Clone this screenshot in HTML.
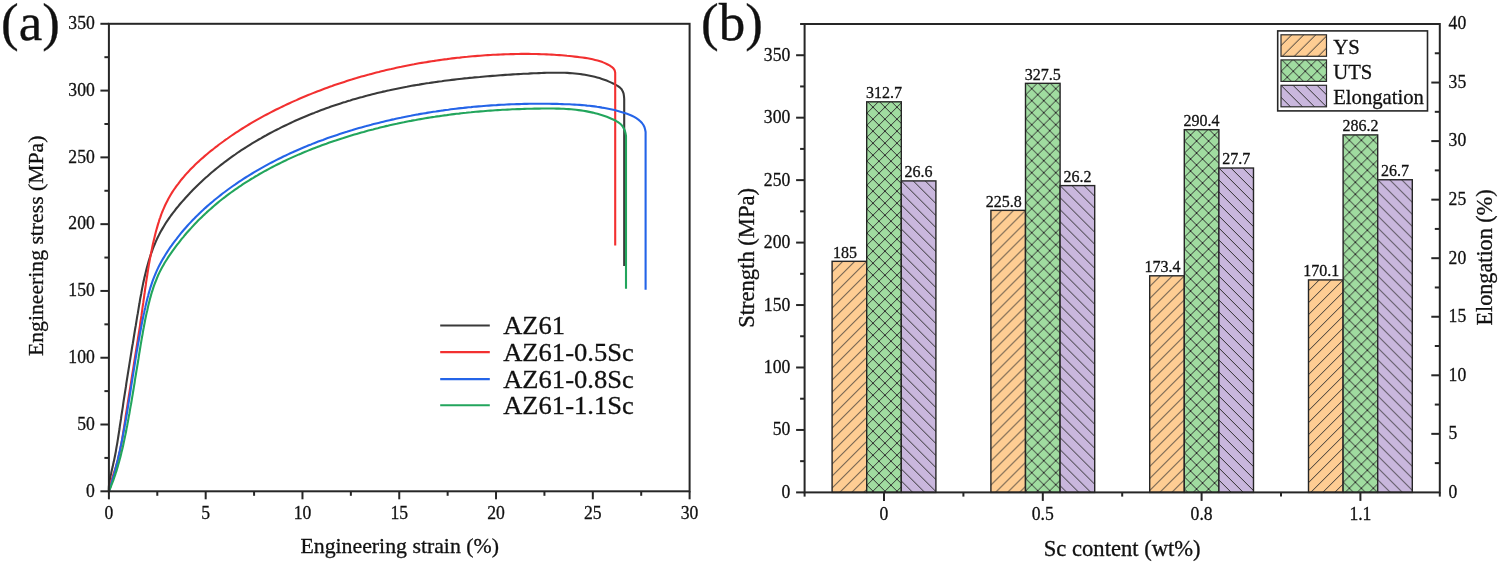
<!DOCTYPE html><html><head><meta charset="utf-8"><style>html,body{margin:0;padding:0;background:#fff;}svg{display:block;will-change:transform;}text{font-family:"Liberation Serif", serif;fill:#111;stroke:#111;stroke-width:0.3px;}</style></head><body>
<svg width="1500" height="564" viewBox="0 0 1500 564">
<defs>
<pattern id="pYS1" patternUnits="userSpaceOnUse" x="830.80" y="261.32" width="12.000" height="12.000"><rect x="0" y="0" width="12.000" height="12.000" fill="#fecd93"/><path d="M-1.800,13.800 L13.800,-1.800 M-13.800,13.800 L1.800,-1.800 M10.200,13.800 L25.800,-1.800" stroke="#2e2e2e" stroke-width="1.00"/></pattern>
<pattern id="pUTS2" patternUnits="userSpaceOnUse" x="866.95" y="101.17" width="12.000" height="12.000"><rect x="0" y="0" width="12.000" height="12.000" fill="#a0dca0"/><path d="M-1.800,13.800 L13.800,-1.800 M-13.800,13.800 L1.800,-1.800 M10.200,13.800 L25.800,-1.800" stroke="#2e2e2e" stroke-width="1.00"/><path d="M-1.800,-1.800 L13.800,13.800 M-13.800,-1.800 L1.800,13.800 M10.200,-1.800 L25.800,13.800" stroke="#2e2e2e" stroke-width="1.00"/></pattern>
<pattern id="pEL3" patternUnits="userSpaceOnUse" x="901.30" y="180.91" width="12.000" height="12.000"><rect x="0" y="0" width="12.000" height="12.000" fill="#c9b7dd"/><path d="M-1.800,-1.800 L13.800,13.800 M-13.800,-1.800 L1.800,13.800 M10.200,-1.800 L25.800,13.800" stroke="#2e2e2e" stroke-width="1.00"/></pattern>
<pattern id="pYS4" patternUnits="userSpaceOnUse" x="989.60" y="210.36" width="12.000" height="12.000"><rect x="0" y="0" width="12.000" height="12.000" fill="#fecd93"/><path d="M-1.800,13.800 L13.800,-1.800 M-13.800,13.800 L1.800,-1.800 M10.200,13.800 L25.800,-1.800" stroke="#2e2e2e" stroke-width="1.00"/></pattern>
<pattern id="pUTS5" patternUnits="userSpaceOnUse" x="1025.75" y="82.68" width="12.000" height="12.000"><rect x="0" y="0" width="12.000" height="12.000" fill="#a0dca0"/><path d="M-1.800,13.800 L13.800,-1.800 M-13.800,13.800 L1.800,-1.800 M10.200,13.800 L25.800,-1.800" stroke="#2e2e2e" stroke-width="1.00"/><path d="M-1.800,-1.800 L13.800,13.800 M-13.800,-1.800 L1.800,13.800 M10.200,-1.800 L25.800,13.800" stroke="#2e2e2e" stroke-width="1.00"/></pattern>
<pattern id="pEL6" patternUnits="userSpaceOnUse" x="1060.10" y="185.60" width="12.000" height="12.000"><rect x="0" y="0" width="12.000" height="12.000" fill="#c9b7dd"/><path d="M-1.800,-1.800 L13.800,13.800 M-13.800,-1.800 L1.800,13.800 M10.200,-1.800 L25.800,13.800" stroke="#2e2e2e" stroke-width="1.00"/></pattern>
<pattern id="pYS7" patternUnits="userSpaceOnUse" x="1148.40" y="275.81" width="12.000" height="12.000"><rect x="0" y="0" width="12.000" height="12.000" fill="#fecd93"/><path d="M-1.800,13.800 L13.800,-1.800 M-13.800,13.800 L1.800,-1.800 M10.200,13.800 L25.800,-1.800" stroke="#2e2e2e" stroke-width="1.00"/></pattern>
<pattern id="pUTS8" patternUnits="userSpaceOnUse" x="1184.55" y="129.02" width="12.000" height="12.000"><rect x="0" y="0" width="12.000" height="12.000" fill="#a0dca0"/><path d="M-1.800,13.800 L13.800,-1.800 M-13.800,13.800 L1.800,-1.800 M10.200,13.800 L25.800,-1.800" stroke="#2e2e2e" stroke-width="1.00"/><path d="M-1.800,-1.800 L13.800,13.800 M-13.800,-1.800 L1.800,13.800 M10.200,-1.800 L25.800,13.800" stroke="#2e2e2e" stroke-width="1.00"/></pattern>
<pattern id="pEL9" patternUnits="userSpaceOnUse" x="1218.90" y="168.03" width="12.000" height="12.000"><rect x="0" y="0" width="12.000" height="12.000" fill="#c9b7dd"/><path d="M-1.800,-1.800 L13.800,13.800 M-13.800,-1.800 L1.800,13.800 M10.200,-1.800 L25.800,13.800" stroke="#2e2e2e" stroke-width="1.00"/></pattern>
<pattern id="pYS10" patternUnits="userSpaceOnUse" x="1307.20" y="279.93" width="12.000" height="12.000"><rect x="0" y="0" width="12.000" height="12.000" fill="#fecd93"/><path d="M-1.800,13.800 L13.800,-1.800 M-13.800,13.800 L1.800,-1.800 M10.200,13.800 L25.800,-1.800" stroke="#2e2e2e" stroke-width="1.00"/></pattern>
<pattern id="pUTS11" patternUnits="userSpaceOnUse" x="1343.35" y="134.27" width="12.000" height="12.000"><rect x="0" y="0" width="12.000" height="12.000" fill="#a0dca0"/><path d="M-1.800,13.800 L13.800,-1.800 M-13.800,13.800 L1.800,-1.800 M10.200,13.800 L25.800,-1.800" stroke="#2e2e2e" stroke-width="1.00"/><path d="M-1.800,-1.800 L13.800,13.800 M-13.800,-1.800 L1.800,13.800 M10.200,-1.800 L25.800,13.800" stroke="#2e2e2e" stroke-width="1.00"/></pattern>
<pattern id="pEL12" patternUnits="userSpaceOnUse" x="1377.70" y="179.74" width="12.000" height="12.000"><rect x="0" y="0" width="12.000" height="12.000" fill="#c9b7dd"/><path d="M-1.800,-1.800 L13.800,13.800 M-13.800,-1.800 L1.800,13.800 M10.200,-1.800 L25.800,13.800" stroke="#2e2e2e" stroke-width="1.00"/></pattern>
<pattern id="pYS13" patternUnits="userSpaceOnUse" x="1279.70" y="34.80" width="12.000" height="12.000"><rect x="0" y="0" width="12.000" height="12.000" fill="#fecd93"/><path d="M-1.800,13.800 L13.800,-1.800 M-13.800,13.800 L1.800,-1.800 M10.200,13.800 L25.800,-1.800" stroke="#2e2e2e" stroke-width="1.00"/></pattern>
<pattern id="pUTS14" patternUnits="userSpaceOnUse" x="1281.25" y="59.25" width="12.000" height="12.000"><rect x="0" y="0" width="12.000" height="12.000" fill="#a0dca0"/><path d="M-1.800,13.800 L13.800,-1.800 M-13.800,13.800 L1.800,-1.800 M10.200,13.800 L25.800,-1.800" stroke="#2e2e2e" stroke-width="1.00"/><path d="M-1.800,-1.800 L13.800,13.800 M-13.800,-1.800 L1.800,13.800 M10.200,-1.800 L25.800,13.800" stroke="#2e2e2e" stroke-width="1.00"/></pattern>
<pattern id="pEL15" patternUnits="userSpaceOnUse" x="1281.00" y="85.30" width="12.000" height="12.000"><rect x="0" y="0" width="12.000" height="12.000" fill="#c9b7dd"/><path d="M-1.800,-1.800 L13.800,13.800 M-13.800,-1.800 L1.800,13.800 M10.200,-1.800 L25.800,13.800" stroke="#2e2e2e" stroke-width="1.00"/></pattern>
</defs>
<path d="M108.8,491.7 L108.8,489.1 L108.9,486.5 L109.2,484.0 L109.5,481.5 L110.0,479.0 L110.4,476.5 L111.0,474.0 L111.5,471.6 L112.1,469.1 L112.7,466.6 L113.2,464.1 L113.8,461.6 L114.3,459.2 L114.8,456.7 L115.3,454.2 L115.8,451.6 L116.2,449.1 L116.6,446.6 L117.1,444.1 L117.5,441.6 L117.9,439.1 L118.3,436.5 L118.7,434.0 L119.1,431.5 L119.5,429.0 L119.8,426.4 L120.2,423.9 L120.6,421.4 L121.0,418.9 L121.3,416.3 L121.7,413.8 L122.1,411.3 L122.5,408.8 L122.9,406.3 L123.2,403.8 L123.6,401.2 L124.0,398.7 L124.4,396.2 L124.8,393.7 L125.2,391.2 L125.6,388.7 L126.0,386.2 L126.3,383.7 L126.7,381.1 L127.1,378.6 L127.5,376.1 L127.9,373.6 L128.3,371.1 L128.7,368.6 L129.1,366.1 L129.5,363.6 L129.9,361.1 L130.3,358.6 L130.7,356.1 L131.1,353.6 L131.5,351.1 L131.9,348.5 L132.3,346.0 L132.8,343.5 L133.2,341.0 L133.6,338.5 L134.0,336.0 L134.4,333.5 L134.8,331.0 L135.2,328.5 L135.7,325.9 L136.1,323.4 L136.5,320.9 L136.9,318.4 L137.3,315.9 L137.8,313.4 L138.2,310.8 L138.6,308.3 L139.0,305.8 L139.5,303.3 L139.9,300.7 L140.3,298.2 L140.8,295.7 L141.3,293.2 L141.7,290.7 L142.2,288.1 L142.7,285.6 L143.2,283.1 L143.8,280.6 L144.3,278.1 L144.9,275.7 L145.5,273.2 L146.1,270.7 L146.7,268.3 L147.4,265.8 L148.1,263.4 L148.8,260.9 L149.5,258.5 L150.3,256.1 L151.1,253.7 L152.0,251.3 L152.8,249.0 L153.7,246.6 L154.7,244.3 L155.7,241.9 L156.7,239.6 L157.8,237.3 L158.9,235.1 L160.1,232.8 L161.3,230.6 L162.6,228.4 L163.9,226.2 L165.2,224.0 L166.6,221.8 L168.1,219.7 L169.5,217.6 L171.0,215.5 L172.6,213.4 L174.2,211.4 L175.7,209.3 L177.4,207.3 L179.0,205.3 L180.7,203.3 L182.4,201.4 L184.1,199.5 L185.8,197.5 L187.5,195.7 L189.3,193.8 L191.0,191.9 L192.8,190.1 L194.6,188.3 L196.4,186.5 L198.2,184.7 L200.0,183.0 L201.9,181.2 L203.7,179.5 L205.6,177.8 L207.5,176.2 L209.4,174.5 L211.3,172.8 L213.2,171.2 L215.1,169.6 L217.1,168.0 L219.0,166.5 L221.0,164.9 L223.0,163.4 L225.0,161.8 L227.0,160.3 L229.0,158.8 L231.0,157.4 L233.1,155.9 L235.2,154.5 L237.2,153.0 L239.3,151.6 L241.4,150.2 L243.5,148.8 L245.7,147.5 L247.8,146.1 L249.9,144.8 L252.1,143.4 L254.3,142.1 L256.5,140.8 L258.7,139.5 L260.9,138.3 L263.1,137.0 L265.4,135.8 L267.6,134.5 L269.9,133.3 L272.1,132.1 L274.4,130.9 L276.7,129.7 L279.0,128.6 L281.3,127.4 L283.6,126.3 L285.9,125.2 L288.2,124.1 L290.6,123.0 L292.9,121.9 L295.2,120.8 L297.6,119.8 L299.9,118.8 L302.3,117.7 L304.7,116.7 L307.1,115.7 L309.4,114.8 L311.8,113.8 L314.2,112.9 L316.6,111.9 L319.0,111.0 L321.4,110.1 L323.8,109.2 L326.2,108.3 L328.6,107.5 L331.0,106.6 L333.4,105.8 L335.8,105.0 L338.2,104.2 L340.6,103.4 L343.0,102.6 L345.5,101.9 L347.9,101.1 L350.3,100.4 L352.7,99.6 L355.2,98.9 L357.6,98.2 L360.0,97.5 L362.5,96.9 L364.9,96.2 L367.4,95.6 L369.8,94.9 L372.3,94.3 L374.7,93.7 L377.2,93.1 L379.6,92.5 L382.1,91.9 L384.5,91.4 L387.0,90.8 L389.5,90.3 L391.9,89.7 L394.4,89.2 L396.9,88.7 L399.3,88.2 L401.8,87.7 L404.3,87.2 L406.8,86.8 L409.3,86.3 L411.7,85.8 L414.2,85.4 L416.7,85.0 L419.2,84.6 L421.7,84.1 L424.2,83.7 L426.7,83.3 L429.2,83.0 L431.7,82.6 L434.2,82.2 L436.7,81.9 L439.2,81.5 L441.8,81.2 L444.3,80.8 L446.8,80.5 L449.3,80.2 L451.8,79.9 L454.4,79.6 L456.9,79.3 L459.4,79.0 L461.9,78.7 L464.5,78.4 L467.0,78.2 L469.6,77.9 L472.1,77.7 L474.6,77.4 L477.2,77.2 L479.7,77.0 L482.3,76.7 L484.8,76.5 L487.4,76.3 L489.9,76.1 L492.5,75.9 L495.1,75.7 L497.6,75.5 L500.2,75.3 L502.8,75.1 L505.3,74.9 L507.9,74.8 L510.5,74.6 L513.0,74.4 L515.6,74.3 L518.2,74.1 L520.8,74.0 L523.4,73.8 L526.0,73.7 L528.5,73.6 L531.1,73.4 L533.7,73.3 L536.3,73.2 L538.9,73.1 L541.5,73.0 L544.1,72.9 L546.7,72.8 L549.3,72.7 L551.9,72.7 L554.4,72.7 L557.0,72.7 L559.6,72.7 L562.2,72.7 L564.7,72.8 L567.3,72.9 L569.8,73.1 L572.4,73.3 L574.9,73.5 L577.4,73.7 L579.9,74.0 L582.4,74.4 L584.9,74.7 L587.4,75.2 L589.8,75.7 L592.3,76.2 L594.7,76.8 L597.1,77.4 L599.5,78.1 L601.9,78.9 L604.3,79.7 L606.6,80.6 L609.0,81.6 L611.3,82.6 L613.6,83.7 L615.8,84.9 L618.0,86.1 L620.0,87.6 L621.6,89.3 L622.8,91.4 L623.6,93.7 L624.0,96.3 L624.2,98.9 L624.2,265.9" fill="none" stroke="#3a3a3a" stroke-width="2.1" stroke-linejoin="round"/>
<path d="M108.8,491.7 L109.3,489.2 L109.8,486.7 L110.5,484.2 L111.1,481.7 L111.9,479.3 L112.6,476.8 L113.4,474.4 L114.2,471.9 L115.0,469.5 L115.8,467.0 L116.5,464.6 L117.2,462.1 L117.9,459.6 L118.5,457.1 L119.1,454.6 L119.7,452.1 L120.2,449.6 L120.7,447.1 L121.2,444.6 L121.6,442.1 L122.1,439.6 L122.5,437.0 L122.9,434.5 L123.3,432.0 L123.7,429.4 L124.1,426.9 L124.5,424.4 L124.9,421.8 L125.3,419.3 L125.6,416.7 L126.0,414.2 L126.4,411.7 L126.8,409.1 L127.2,406.6 L127.6,404.1 L128.0,401.5 L128.4,399.0 L128.8,396.5 L129.2,393.9 L129.6,391.4 L130.0,388.9 L130.4,386.3 L130.8,383.8 L131.2,381.3 L131.6,378.7 L132.0,376.2 L132.4,373.7 L132.8,371.1 L133.2,368.6 L133.6,366.1 L134.0,363.5 L134.4,361.0 L134.8,358.5 L135.2,356.0 L135.6,353.4 L136.0,350.9 L136.4,348.4 L136.8,345.8 L137.2,343.3 L137.6,340.8 L138.0,338.2 L138.4,335.7 L138.8,333.2 L139.2,330.6 L139.6,328.1 L140.0,325.6 L140.3,323.0 L140.7,320.5 L141.1,317.9 L141.5,315.4 L141.8,312.9 L142.2,310.3 L142.5,307.8 L142.9,305.2 L143.3,302.7 L143.6,300.2 L144.0,297.6 L144.3,295.1 L144.7,292.5 L145.0,290.0 L145.4,287.5 L145.8,284.9 L146.1,282.4 L146.5,279.8 L146.9,277.3 L147.3,274.8 L147.7,272.2 L148.1,269.7 L148.5,267.2 L148.9,264.6 L149.4,262.1 L149.8,259.6 L150.3,257.1 L150.8,254.5 L151.3,252.0 L151.8,249.5 L152.3,247.0 L152.8,244.5 L153.4,242.0 L154.0,239.5 L154.6,237.0 L155.2,234.5 L155.8,232.0 L156.5,229.5 L157.2,227.1 L157.9,224.6 L158.7,222.1 L159.4,219.7 L160.3,217.3 L161.1,214.9 L162.0,212.5 L163.0,210.1 L164.0,207.8 L165.0,205.5 L166.1,203.2 L167.3,200.9 L168.4,198.7 L169.7,196.5 L171.0,194.3 L172.3,192.1 L173.7,190.0 L175.2,187.9 L176.6,185.8 L178.2,183.8 L179.7,181.8 L181.3,179.7 L183.0,177.8 L184.6,175.8 L186.3,173.9 L188.1,172.0 L189.8,170.1 L191.6,168.3 L193.5,166.4 L195.3,164.6 L197.2,162.8 L199.1,161.1 L201.0,159.3 L203.0,157.6 L204.9,155.9 L206.9,154.2 L208.9,152.5 L210.9,150.9 L213.0,149.3 L215.0,147.7 L217.1,146.1 L219.1,144.5 L221.2,143.0 L223.3,141.5 L225.4,139.9 L227.5,138.5 L229.6,137.0 L231.7,135.5 L233.8,134.1 L235.9,132.7 L238.1,131.3 L240.2,129.9 L242.4,128.5 L244.6,127.2 L246.7,125.8 L248.9,124.5 L251.1,123.2 L253.3,121.9 L255.5,120.6 L257.7,119.4 L260.0,118.1 L262.2,116.9 L264.4,115.7 L266.7,114.5 L268.9,113.3 L271.2,112.1 L273.4,111.0 L275.7,109.8 L278.0,108.7 L280.3,107.6 L282.6,106.5 L284.9,105.4 L287.2,104.3 L289.5,103.2 L291.8,102.1 L294.1,101.1 L296.5,100.1 L298.8,99.0 L301.1,98.0 L303.5,97.0 L305.9,96.0 L308.2,95.1 L310.6,94.1 L313.0,93.1 L315.3,92.2 L317.7,91.3 L320.1,90.4 L322.5,89.5 L324.9,88.6 L327.3,87.7 L329.7,86.8 L332.1,86.0 L334.5,85.1 L337.0,84.3 L339.4,83.5 L341.8,82.7 L344.3,81.9 L346.7,81.1 L349.1,80.3 L351.6,79.6 L354.1,78.8 L356.5,78.1 L359.0,77.3 L361.4,76.6 L363.9,75.9 L366.4,75.2 L368.9,74.6 L371.3,73.9 L373.8,73.2 L376.3,72.6 L378.8,72.0 L381.3,71.3 L383.8,70.7 L386.3,70.1 L388.8,69.5 L391.3,69.0 L393.8,68.4 L396.3,67.8 L398.8,67.3 L401.4,66.8 L403.9,66.2 L406.4,65.7 L408.9,65.2 L411.4,64.7 L414.0,64.3 L416.5,63.8 L419.0,63.3 L421.6,62.9 L424.1,62.5 L426.6,62.1 L429.2,61.6 L431.7,61.2 L434.3,60.9 L436.8,60.5 L439.4,60.1 L441.9,59.7 L444.5,59.4 L447.0,59.1 L449.6,58.7 L452.1,58.4 L454.7,58.1 L457.2,57.8 L459.8,57.6 L462.3,57.3 L464.9,57.0 L467.4,56.8 L470.0,56.5 L472.5,56.3 L475.1,56.1 L477.6,55.9 L480.2,55.7 L482.8,55.5 L485.3,55.3 L487.9,55.1 L490.4,55.0 L493.0,54.8 L495.5,54.7 L498.1,54.6 L500.6,54.5 L503.2,54.4 L505.7,54.3 L508.3,54.2 L510.8,54.1 L513.4,54.1 L515.9,54.0 L518.5,54.0 L521.0,53.9 L523.6,53.9 L526.1,53.9 L528.7,53.9 L531.2,54.0 L533.8,54.0 L536.3,54.0 L538.9,54.1 L541.4,54.2 L544.0,54.3 L546.5,54.4 L549.1,54.5 L551.6,54.6 L554.2,54.8 L556.7,55.0 L559.3,55.1 L561.9,55.3 L564.4,55.5 L567.0,55.8 L569.6,56.0 L572.1,56.3 L574.7,56.6 L577.3,56.9 L579.8,57.2 L582.4,57.5 L585.0,57.9 L587.6,58.3 L590.1,58.7 L592.6,59.3 L595.1,59.9 L597.6,60.5 L600.1,61.3 L602.5,62.1 L604.9,63.1 L607.2,64.2 L609.5,65.4 L611.6,66.8 L613.4,68.4 L614.7,70.4 L615.2,72.8 L615.2,245.4" fill="none" stroke="#f23030" stroke-width="2.1" stroke-linejoin="round"/>
<path d="M108.8,491.7 L109.6,489.3 L110.3,486.9 L111.1,484.4 L111.8,482.0 L112.5,479.6 L113.2,477.1 L113.9,474.7 L114.6,472.3 L115.2,469.8 L115.8,467.4 L116.5,464.9 L117.1,462.4 L117.7,460.0 L118.2,457.5 L118.8,455.0 L119.4,452.6 L119.9,450.1 L120.4,447.6 L121.0,445.1 L121.5,442.7 L122.0,440.2 L122.5,437.7 L123.0,435.2 L123.4,432.7 L123.9,430.2 L124.4,427.7 L124.8,425.2 L125.3,422.8 L125.7,420.3 L126.1,417.8 L126.6,415.3 L127.0,412.8 L127.4,410.3 L127.8,407.8 L128.2,405.3 L128.6,402.8 L129.0,400.3 L129.4,397.8 L129.8,395.3 L130.2,392.8 L130.6,390.3 L131.0,387.7 L131.4,385.2 L131.8,382.7 L132.2,380.2 L132.6,377.7 L133.0,375.2 L133.4,372.7 L133.8,370.2 L134.2,367.7 L134.6,365.2 L135.0,362.7 L135.4,360.2 L135.8,357.7 L136.2,355.2 L136.6,352.7 L137.0,350.2 L137.5,347.7 L137.9,345.2 L138.3,342.7 L138.8,340.2 L139.2,337.7 L139.7,335.2 L140.1,332.7 L140.6,330.2 L141.1,327.8 L141.5,325.3 L142.0,322.8 L142.5,320.3 L143.0,317.8 L143.5,315.3 L144.1,312.8 L144.6,310.4 L145.2,307.9 L145.7,305.4 L146.3,302.9 L146.9,300.5 L147.5,298.0 L148.2,295.6 L148.8,293.1 L149.5,290.7 L150.2,288.2 L151.0,285.8 L151.8,283.4 L152.6,281.0 L153.5,278.7 L154.4,276.3 L155.4,274.0 L156.4,271.7 L157.4,269.4 L158.5,267.1 L159.7,264.8 L160.9,262.6 L162.1,260.3 L163.4,258.1 L164.7,256.0 L166.0,253.8 L167.4,251.7 L168.8,249.5 L170.2,247.4 L171.7,245.4 L173.1,243.3 L174.6,241.3 L176.2,239.3 L177.7,237.3 L179.3,235.3 L180.8,233.4 L182.4,231.5 L184.1,229.5 L185.7,227.7 L187.4,225.8 L189.1,223.9 L190.8,222.1 L192.5,220.3 L194.3,218.5 L196.0,216.7 L197.8,215.0 L199.6,213.2 L201.4,211.5 L203.3,209.8 L205.1,208.1 L207.0,206.4 L208.9,204.7 L210.8,203.1 L212.8,201.5 L214.7,199.8 L216.7,198.2 L218.6,196.7 L220.6,195.1 L222.6,193.5 L224.7,192.0 L226.7,190.5 L228.7,189.0 L230.8,187.5 L232.9,186.0 L235.0,184.6 L237.1,183.1 L239.2,181.7 L241.3,180.3 L243.4,178.9 L245.6,177.5 L247.8,176.2 L249.9,174.8 L252.1,173.5 L254.3,172.2 L256.5,170.9 L258.7,169.6 L260.9,168.3 L263.1,167.1 L265.3,165.9 L267.6,164.6 L269.8,163.4 L272.1,162.2 L274.3,161.1 L276.6,159.9 L278.9,158.8 L281.1,157.7 L283.4,156.5 L285.7,155.5 L288.0,154.4 L290.3,153.3 L292.6,152.3 L294.9,151.2 L297.2,150.2 L299.5,149.2 L301.8,148.2 L304.1,147.2 L306.5,146.3 L308.8,145.3 L311.2,144.4 L313.5,143.4 L315.9,142.5 L318.2,141.6 L320.6,140.7 L322.9,139.9 L325.3,139.0 L327.7,138.1 L330.1,137.3 L332.4,136.5 L334.8,135.7 L337.2,134.9 L339.6,134.1 L342.0,133.3 L344.4,132.5 L346.8,131.8 L349.3,131.0 L351.7,130.3 L354.1,129.5 L356.5,128.8 L359.0,128.1 L361.4,127.4 L363.8,126.7 L366.3,126.1 L368.7,125.4 L371.2,124.8 L373.6,124.1 L376.1,123.5 L378.5,122.9 L381.0,122.3 L383.4,121.7 L385.9,121.1 L388.4,120.5 L390.8,119.9 L393.3,119.4 L395.8,118.8 L398.3,118.3 L400.8,117.8 L403.3,117.2 L405.7,116.7 L408.2,116.2 L410.7,115.8 L413.2,115.3 L415.7,114.8 L418.2,114.4 L420.7,113.9 L423.2,113.5 L425.7,113.1 L428.2,112.6 L430.7,112.2 L433.3,111.8 L435.8,111.5 L438.3,111.1 L440.8,110.7 L443.3,110.4 L445.8,110.0 L448.4,109.7 L450.9,109.3 L453.4,109.0 L455.9,108.7 L458.5,108.4 L461.0,108.1 L463.5,107.9 L466.0,107.6 L468.6,107.3 L471.1,107.1 L473.6,106.8 L476.1,106.6 L478.7,106.4 L481.2,106.2 L483.7,106.0 L486.3,105.8 L488.8,105.6 L491.3,105.4 L493.9,105.2 L496.4,105.1 L498.9,104.9 L501.5,104.8 L504.0,104.7 L506.5,104.5 L509.1,104.4 L511.6,104.3 L514.1,104.2 L516.6,104.1 L519.2,104.1 L521.7,104.0 L524.2,103.9 L526.8,103.9 L529.3,103.8 L531.8,103.8 L534.3,103.8 L536.8,103.8 L539.4,103.8 L541.9,103.8 L544.4,103.8 L546.9,103.8 L549.4,103.8 L552.0,103.9 L554.5,103.9 L557.0,103.9 L559.5,104.0 L562.0,104.1 L564.5,104.2 L567.0,104.2 L569.5,104.3 L572.0,104.5 L574.5,104.6 L577.0,104.7 L579.5,104.9 L582.0,105.1 L584.5,105.3 L587.0,105.6 L589.5,105.8 L592.0,106.1 L594.5,106.4 L597.0,106.8 L599.5,107.1 L602.0,107.6 L604.5,108.0 L607.0,108.5 L609.5,109.0 L612.0,109.5 L614.5,110.1 L617.0,110.8 L619.5,111.5 L622.0,112.2 L624.6,113.0 L627.0,113.8 L629.5,114.7 L631.9,115.7 L634.2,116.9 L636.3,118.2 L638.4,119.6 L640.3,121.2 L642.0,123.0 L643.4,125.0 L644.5,127.2 L645.1,129.5 L645.6,132.0 L645.6,289.8" fill="none" stroke="#2464e8" stroke-width="2.1" stroke-linejoin="round"/>
<path d="M108.8,491.7 L109.7,489.4 L110.7,487.2 L111.5,484.9 L112.4,482.6 L113.3,480.3 L114.1,478.0 L114.9,475.7 L115.6,473.4 L116.4,471.1 L117.1,468.7 L117.8,466.4 L118.4,464.1 L119.1,461.7 L119.7,459.4 L120.4,457.0 L121.0,454.6 L121.5,452.3 L122.1,449.9 L122.7,447.5 L123.2,445.2 L123.7,442.8 L124.2,440.4 L124.7,438.0 L125.2,435.6 L125.7,433.2 L126.2,430.8 L126.6,428.4 L127.1,426.0 L127.5,423.6 L128.0,421.2 L128.4,418.8 L128.8,416.4 L129.3,414.0 L129.7,411.6 L130.1,409.2 L130.5,406.8 L131.0,404.4 L131.4,402.0 L131.8,399.6 L132.2,397.2 L132.6,394.8 L133.0,392.4 L133.4,390.0 L133.8,387.6 L134.2,385.2 L134.6,382.8 L134.9,380.3 L135.3,377.9 L135.7,375.5 L136.1,373.1 L136.5,370.7 L136.9,368.3 L137.3,365.9 L137.7,363.5 L138.1,361.1 L138.5,358.7 L138.8,356.3 L139.2,353.9 L139.6,351.5 L140.0,349.0 L140.4,346.6 L140.8,344.2 L141.2,341.8 L141.6,339.4 L142.0,337.0 L142.5,334.6 L142.9,332.2 L143.3,329.8 L143.8,327.4 L144.2,325.0 L144.7,322.6 L145.1,320.2 L145.6,317.8 L146.1,315.4 L146.6,313.1 L147.2,310.7 L147.7,308.3 L148.2,305.9 L148.8,303.5 L149.4,301.2 L150.0,298.8 L150.7,296.4 L151.3,294.1 L152.0,291.8 L152.8,289.4 L153.5,287.1 L154.3,284.8 L155.2,282.5 L156.1,280.3 L157.0,278.0 L157.9,275.8 L158.9,273.6 L160.0,271.4 L161.1,269.2 L162.3,267.1 L163.5,265.0 L164.7,262.8 L166.0,260.8 L167.3,258.7 L168.6,256.6 L170.0,254.6 L171.4,252.6 L172.8,250.6 L174.3,248.6 L175.7,246.7 L177.2,244.7 L178.7,242.8 L180.2,240.8 L181.7,238.9 L183.3,237.1 L184.8,235.2 L186.4,233.3 L188.0,231.5 L189.6,229.7 L191.3,227.9 L192.9,226.1 L194.6,224.3 L196.3,222.6 L197.9,220.8 L199.7,219.1 L201.4,217.4 L203.1,215.7 L204.9,214.1 L206.7,212.4 L208.5,210.8 L210.3,209.2 L212.1,207.6 L213.9,206.0 L215.8,204.4 L217.6,202.9 L219.5,201.3 L221.4,199.8 L223.3,198.3 L225.2,196.9 L227.1,195.4 L229.1,193.9 L231.0,192.5 L233.0,191.1 L235.0,189.7 L237.0,188.3 L239.0,186.9 L241.0,185.6 L243.0,184.2 L245.0,182.9 L247.1,181.6 L249.2,180.3 L251.2,179.0 L253.3,177.8 L255.4,176.5 L257.5,175.3 L259.6,174.0 L261.7,172.8 L263.8,171.6 L266.0,170.5 L268.1,169.3 L270.3,168.1 L272.5,167.0 L274.6,165.9 L276.8,164.8 L279.0,163.7 L281.2,162.6 L283.4,161.5 L285.6,160.5 L287.8,159.4 L290.0,158.4 L292.3,157.4 L294.5,156.4 L296.8,155.4 L299.0,154.4 L301.3,153.5 L303.5,152.5 L305.8,151.6 L308.1,150.6 L310.3,149.7 L312.6,148.8 L314.9,147.9 L317.2,147.1 L319.5,146.2 L321.8,145.3 L324.1,144.5 L326.4,143.7 L328.7,142.8 L331.0,142.0 L333.3,141.2 L335.7,140.5 L338.0,139.7 L340.3,138.9 L342.6,138.2 L345.0,137.4 L347.3,136.7 L349.6,136.0 L352.0,135.3 L354.3,134.6 L356.6,133.9 L359.0,133.2 L361.3,132.5 L363.7,131.9 L366.0,131.2 L368.3,130.6 L370.7,130.0 L373.0,129.4 L375.4,128.7 L377.8,128.2 L380.1,127.6 L382.5,127.0 L384.8,126.4 L387.2,125.9 L389.6,125.3 L391.9,124.8 L394.3,124.3 L396.7,123.8 L399.0,123.2 L401.4,122.7 L403.8,122.3 L406.2,121.8 L408.5,121.3 L410.9,120.9 L413.3,120.4 L415.7,120.0 L418.1,119.5 L420.5,119.1 L422.8,118.7 L425.2,118.3 L427.6,117.9 L430.0,117.5 L432.4,117.1 L434.8,116.8 L437.2,116.4 L439.6,116.1 L442.0,115.7 L444.4,115.4 L446.8,115.1 L449.2,114.7 L451.6,114.4 L454.0,114.1 L456.5,113.8 L458.9,113.6 L461.3,113.3 L463.7,113.0 L466.1,112.8 L468.5,112.5 L471.0,112.3 L473.4,112.0 L475.8,111.8 L478.2,111.6 L480.6,111.4 L483.1,111.2 L485.5,111.0 L487.9,110.8 L490.4,110.6 L492.8,110.5 L495.2,110.3 L497.7,110.1 L500.1,110.0 L502.5,109.8 L505.0,109.7 L507.4,109.6 L509.9,109.5 L512.3,109.3 L514.7,109.2 L517.2,109.1 L519.6,109.1 L522.1,109.0 L524.5,108.9 L527.0,108.8 L529.4,108.8 L531.9,108.7 L534.3,108.6 L536.8,108.6 L539.2,108.6 L541.7,108.5 L544.2,108.5 L546.6,108.5 L549.1,108.5 L551.5,108.5 L554.0,108.5 L556.4,108.6 L558.9,108.6 L561.3,108.7 L563.8,108.8 L566.2,109.0 L568.7,109.1 L571.1,109.3 L573.5,109.5 L576.0,109.8 L578.4,110.1 L580.8,110.4 L583.2,110.7 L585.6,111.1 L588.0,111.6 L590.4,112.1 L592.8,112.6 L595.1,113.2 L597.5,113.8 L599.8,114.5 L602.2,115.2 L604.5,116.0 L606.8,116.8 L609.1,117.7 L611.4,118.7 L613.7,119.7 L615.9,120.8 L618.0,122.1 L619.9,123.5 L621.6,125.1 L623.0,126.9 L624.1,129.0 L625.0,131.2 L625.6,133.6 L626.0,136.0 L626.0,288.7" fill="none" stroke="#22a55c" stroke-width="2.1" stroke-linejoin="round"/>
<g stroke="#262626" stroke-width="2" fill="none" stroke-linecap="butt">
<rect x="108.90" y="23.80" width="580.70" height="467.50"/>
<line x1="108.90" y1="491.30" x2="108.90" y2="499.30"/>
<line x1="205.68" y1="491.30" x2="205.68" y2="499.30"/>
<line x1="302.47" y1="491.30" x2="302.47" y2="499.30"/>
<line x1="399.25" y1="491.30" x2="399.25" y2="499.30"/>
<line x1="496.03" y1="491.30" x2="496.03" y2="499.30"/>
<line x1="592.82" y1="491.30" x2="592.82" y2="499.30"/>
<line x1="689.60" y1="491.30" x2="689.60" y2="499.30"/>
<line x1="157.29" y1="491.30" x2="157.29" y2="495.80"/>
<line x1="254.08" y1="491.30" x2="254.08" y2="495.80"/>
<line x1="350.86" y1="491.30" x2="350.86" y2="495.80"/>
<line x1="447.64" y1="491.30" x2="447.64" y2="495.80"/>
<line x1="544.43" y1="491.30" x2="544.43" y2="495.80"/>
<line x1="641.21" y1="491.30" x2="641.21" y2="495.80"/>
<line x1="100.40" y1="491.30" x2="108.90" y2="491.30"/>
<line x1="100.40" y1="424.51" x2="108.90" y2="424.51"/>
<line x1="100.40" y1="357.73" x2="108.90" y2="357.73"/>
<line x1="100.40" y1="290.94" x2="108.90" y2="290.94"/>
<line x1="100.40" y1="224.16" x2="108.90" y2="224.16"/>
<line x1="100.40" y1="157.37" x2="108.90" y2="157.37"/>
<line x1="100.40" y1="90.59" x2="108.90" y2="90.59"/>
<line x1="100.40" y1="23.80" x2="108.90" y2="23.80"/>
<line x1="104.40" y1="457.91" x2="108.90" y2="457.91"/>
<line x1="104.40" y1="391.12" x2="108.90" y2="391.12"/>
<line x1="104.40" y1="324.34" x2="108.90" y2="324.34"/>
<line x1="104.40" y1="257.55" x2="108.90" y2="257.55"/>
<line x1="104.40" y1="190.76" x2="108.90" y2="190.76"/>
<line x1="104.40" y1="123.98" x2="108.90" y2="123.98"/>
<line x1="104.40" y1="57.19" x2="108.90" y2="57.19"/>
</g>
<text transform="translate(94.80,496.50) scale(0.905,1)" font-size="19.50" text-anchor="end">0</text>
<text transform="translate(94.80,429.71) scale(0.905,1)" font-size="19.50" text-anchor="end">50</text>
<text transform="translate(94.80,362.93) scale(0.905,1)" font-size="19.50" text-anchor="end">100</text>
<text transform="translate(94.80,296.14) scale(0.905,1)" font-size="19.50" text-anchor="end">150</text>
<text transform="translate(94.80,229.36) scale(0.905,1)" font-size="19.50" text-anchor="end">200</text>
<text transform="translate(94.80,162.57) scale(0.905,1)" font-size="19.50" text-anchor="end">250</text>
<text transform="translate(94.80,95.79) scale(0.905,1)" font-size="19.50" text-anchor="end">300</text>
<text transform="translate(94.80,29.00) scale(0.905,1)" font-size="19.50" text-anchor="end">350</text>
<text transform="translate(108.90,518.60) scale(0.905,1)" font-size="19.50" text-anchor="middle">0</text>
<text transform="translate(205.68,518.60) scale(0.905,1)" font-size="19.50" text-anchor="middle">5</text>
<text transform="translate(302.47,518.60) scale(0.905,1)" font-size="19.50" text-anchor="middle">10</text>
<text transform="translate(399.25,518.60) scale(0.905,1)" font-size="19.50" text-anchor="middle">15</text>
<text transform="translate(496.03,518.60) scale(0.905,1)" font-size="19.50" text-anchor="middle">20</text>
<text transform="translate(592.82,518.60) scale(0.905,1)" font-size="19.50" text-anchor="middle">25</text>
<text transform="translate(689.60,518.60) scale(0.905,1)" font-size="19.50" text-anchor="middle">30</text>
<text x="399.70" y="552.80" font-size="21.80" text-anchor="middle">Engineering strain (%)</text>
<text transform="translate(43.0,245.8) rotate(-90)" font-size="21.7" text-anchor="middle">Engineering stress (MPa)</text>
<text x="1.00" y="40.40" font-size="53.00" text-anchor="start">(a)</text>
<line x1="440.2" y1="325.50" x2="489.8" y2="325.50" stroke="#3a3a3a" stroke-width="2.1"/>
<text transform="translate(503.20,334.20) scale(1.022,1)" font-size="26.00" text-anchor="start">AZ61</text>
<line x1="440.2" y1="352.10" x2="489.8" y2="352.10" stroke="#f23030" stroke-width="2.1"/>
<text transform="translate(503.20,360.80) scale(1.022,1)" font-size="26.00" text-anchor="start">AZ61-0.5Sc</text>
<line x1="440.2" y1="379.10" x2="489.8" y2="379.10" stroke="#2464e8" stroke-width="2.1"/>
<text transform="translate(503.20,387.80) scale(1.022,1)" font-size="26.00" text-anchor="start">AZ61-0.8Sc</text>
<line x1="440.2" y1="405.30" x2="489.8" y2="405.30" stroke="#22a55c" stroke-width="2.1"/>
<text transform="translate(503.20,414.00) scale(1.022,1)" font-size="26.00" text-anchor="start">AZ61-1.1Sc</text>
<rect x="832.10" y="261.32" width="34.60" height="231.08" fill="url(#pYS1)" stroke="#262626" stroke-width="1.4"/>
<rect x="866.70" y="101.82" width="34.60" height="390.58" fill="url(#pUTS2)" stroke="#262626" stroke-width="1.4"/>
<rect x="901.30" y="180.91" width="34.60" height="311.49" fill="url(#pEL3)" stroke="#262626" stroke-width="1.4"/>
<text x="844.90" y="257.72" font-size="16" text-anchor="middle">185</text>
<text x="884.00" y="98.22" font-size="16" text-anchor="middle">312.7</text>
<text x="918.60" y="177.31" font-size="16" text-anchor="middle">26.6</text>
<rect x="990.90" y="210.36" width="34.60" height="282.04" fill="url(#pYS4)" stroke="#262626" stroke-width="1.4"/>
<rect x="1025.50" y="83.33" width="34.60" height="409.07" fill="url(#pUTS5)" stroke="#262626" stroke-width="1.4"/>
<rect x="1060.10" y="185.60" width="34.60" height="306.80" fill="url(#pEL6)" stroke="#262626" stroke-width="1.4"/>
<text x="1003.70" y="206.76" font-size="16" text-anchor="middle">225.8</text>
<text x="1042.80" y="79.73" font-size="16" text-anchor="middle">327.5</text>
<text x="1077.40" y="182.00" font-size="16" text-anchor="middle">26.2</text>
<rect x="1149.70" y="275.81" width="34.60" height="216.59" fill="url(#pYS7)" stroke="#262626" stroke-width="1.4"/>
<rect x="1184.30" y="129.67" width="34.60" height="362.73" fill="url(#pUTS8)" stroke="#262626" stroke-width="1.4"/>
<rect x="1218.90" y="168.03" width="34.60" height="324.37" fill="url(#pEL9)" stroke="#262626" stroke-width="1.4"/>
<text x="1162.50" y="272.21" font-size="16" text-anchor="middle">173.4</text>
<text x="1201.60" y="126.07" font-size="16" text-anchor="middle">290.4</text>
<text x="1236.20" y="164.43" font-size="16" text-anchor="middle">27.7</text>
<rect x="1308.50" y="279.93" width="34.60" height="212.47" fill="url(#pYS10)" stroke="#262626" stroke-width="1.4"/>
<rect x="1343.10" y="134.92" width="34.60" height="357.48" fill="url(#pUTS11)" stroke="#262626" stroke-width="1.4"/>
<rect x="1377.70" y="179.74" width="34.60" height="312.66" fill="url(#pEL12)" stroke="#262626" stroke-width="1.4"/>
<text x="1321.30" y="276.33" font-size="16" text-anchor="middle">170.1</text>
<text x="1360.40" y="131.32" font-size="16" text-anchor="middle">286.2</text>
<text x="1395.00" y="176.14" font-size="16" text-anchor="middle">26.7</text>
<g stroke="#262626" stroke-width="2" fill="none">
<rect x="804.60" y="24.00" width="635.20" height="468.40"/>
<line x1="796.10" y1="492.40" x2="804.60" y2="492.40"/>
<line x1="796.10" y1="429.95" x2="804.60" y2="429.95"/>
<line x1="796.10" y1="367.49" x2="804.60" y2="367.49"/>
<line x1="796.10" y1="305.04" x2="804.60" y2="305.04"/>
<line x1="796.10" y1="242.59" x2="804.60" y2="242.59"/>
<line x1="796.10" y1="180.13" x2="804.60" y2="180.13"/>
<line x1="796.10" y1="117.68" x2="804.60" y2="117.68"/>
<line x1="796.10" y1="55.23" x2="804.60" y2="55.23"/>
<line x1="800.10" y1="461.17" x2="804.60" y2="461.17"/>
<line x1="800.10" y1="398.72" x2="804.60" y2="398.72"/>
<line x1="800.10" y1="336.27" x2="804.60" y2="336.27"/>
<line x1="800.10" y1="273.81" x2="804.60" y2="273.81"/>
<line x1="800.10" y1="211.36" x2="804.60" y2="211.36"/>
<line x1="800.10" y1="148.91" x2="804.60" y2="148.91"/>
<line x1="800.10" y1="86.45" x2="804.60" y2="86.45"/>
<line x1="800.10" y1="24.00" x2="804.60" y2="24.00"/>
<line x1="1431.30" y1="433.85" x2="1439.80" y2="433.85"/>
<line x1="1431.30" y1="375.30" x2="1439.80" y2="375.30"/>
<line x1="1431.30" y1="316.75" x2="1439.80" y2="316.75"/>
<line x1="1431.30" y1="258.20" x2="1439.80" y2="258.20"/>
<line x1="1431.30" y1="199.65" x2="1439.80" y2="199.65"/>
<line x1="1431.30" y1="141.10" x2="1439.80" y2="141.10"/>
<line x1="1431.30" y1="82.55" x2="1439.80" y2="82.55"/>
<line x1="1434.80" y1="463.12" x2="1439.80" y2="463.12"/>
<line x1="1434.80" y1="404.57" x2="1439.80" y2="404.57"/>
<line x1="1434.80" y1="346.02" x2="1439.80" y2="346.02"/>
<line x1="1434.80" y1="287.47" x2="1439.80" y2="287.47"/>
<line x1="1434.80" y1="228.92" x2="1439.80" y2="228.92"/>
<line x1="1434.80" y1="170.38" x2="1439.80" y2="170.38"/>
<line x1="1434.80" y1="111.82" x2="1439.80" y2="111.82"/>
<line x1="1434.80" y1="53.27" x2="1439.80" y2="53.27"/>
<line x1="884.00" y1="492.40" x2="884.00" y2="500.90"/>
<line x1="1042.80" y1="492.40" x2="1042.80" y2="500.90"/>
<line x1="1201.60" y1="492.40" x2="1201.60" y2="500.90"/>
<line x1="1360.40" y1="492.40" x2="1360.40" y2="500.90"/>
<line x1="804.60" y1="492.40" x2="804.60" y2="496.60"/>
<line x1="963.40" y1="492.40" x2="963.40" y2="496.60"/>
<line x1="1122.20" y1="492.40" x2="1122.20" y2="496.60"/>
<line x1="1281.00" y1="492.40" x2="1281.00" y2="496.60"/>
<line x1="1439.80" y1="492.40" x2="1439.80" y2="496.60"/>
</g>
<text transform="translate(790.30,497.90) scale(0.905,1)" font-size="19.50" text-anchor="end">0</text>
<text transform="translate(790.30,435.45) scale(0.905,1)" font-size="19.50" text-anchor="end">50</text>
<text transform="translate(790.30,372.99) scale(0.905,1)" font-size="19.50" text-anchor="end">100</text>
<text transform="translate(790.30,310.54) scale(0.905,1)" font-size="19.50" text-anchor="end">150</text>
<text transform="translate(790.30,248.09) scale(0.905,1)" font-size="19.50" text-anchor="end">200</text>
<text transform="translate(790.30,185.63) scale(0.905,1)" font-size="19.50" text-anchor="end">250</text>
<text transform="translate(790.30,123.18) scale(0.905,1)" font-size="19.50" text-anchor="end">300</text>
<text transform="translate(790.30,60.73) scale(0.905,1)" font-size="19.50" text-anchor="end">350</text>
<text transform="translate(1448.60,497.70) scale(0.905,1)" font-size="19.50" text-anchor="start">0</text>
<text transform="translate(1448.60,439.15) scale(0.905,1)" font-size="19.50" text-anchor="start">5</text>
<text transform="translate(1448.60,380.60) scale(0.905,1)" font-size="19.50" text-anchor="start">10</text>
<text transform="translate(1448.60,322.05) scale(0.905,1)" font-size="19.50" text-anchor="start">15</text>
<text transform="translate(1448.60,263.50) scale(0.905,1)" font-size="19.50" text-anchor="start">20</text>
<text transform="translate(1448.60,204.95) scale(0.905,1)" font-size="19.50" text-anchor="start">25</text>
<text transform="translate(1448.60,146.40) scale(0.905,1)" font-size="19.50" text-anchor="start">30</text>
<text transform="translate(1448.60,87.85) scale(0.905,1)" font-size="19.50" text-anchor="start">35</text>
<text transform="translate(1448.60,29.30) scale(0.905,1)" font-size="19.50" text-anchor="start">40</text>
<text transform="translate(884.00,520.10) scale(0.905,1)" font-size="19.50" text-anchor="middle">0</text>
<text transform="translate(1042.80,520.10) scale(0.905,1)" font-size="19.50" text-anchor="middle">0.5</text>
<text transform="translate(1201.60,520.10) scale(0.905,1)" font-size="19.50" text-anchor="middle">0.8</text>
<text transform="translate(1360.40,520.10) scale(0.905,1)" font-size="19.50" text-anchor="middle">1.1</text>
<text x="1122.20" y="556.30" font-size="22.60" text-anchor="middle">Sc content (wt%)</text>
<text transform="translate(753.5,257.9) rotate(-90)" font-size="22.6" text-anchor="middle">Strength (MPa)</text>
<text transform="translate(1492,257.5) rotate(-90)" font-size="22.2" text-anchor="middle">Elongation (%)</text>
<text x="701.00" y="39.80" font-size="53.00" text-anchor="start">(b)</text>
<rect x="1277.7" y="30.9" width="149.8" height="80" fill="#fff" stroke="#262626" stroke-width="1.6"/>
<rect x="1281" y="34.80" width="45.5" height="21.5" fill="url(#pYS13)" stroke="#2a2a2a" stroke-width="1.2"/>
<text transform="translate(1333.20,53.50) scale(0.985,1)" font-size="21.00" text-anchor="start">YS</text>
<rect x="1281" y="59.90" width="45.5" height="21.5" fill="url(#pUTS14)" stroke="#2a2a2a" stroke-width="1.2"/>
<text transform="translate(1333.20,78.60) scale(0.985,1)" font-size="21.00" text-anchor="start">UTS</text>
<rect x="1281" y="85.30" width="45.5" height="21.5" fill="url(#pEL15)" stroke="#2a2a2a" stroke-width="1.2"/>
<text transform="translate(1333.20,104.00) scale(0.985,1)" font-size="21.00" text-anchor="start">Elongation</text>
</svg></body></html>
